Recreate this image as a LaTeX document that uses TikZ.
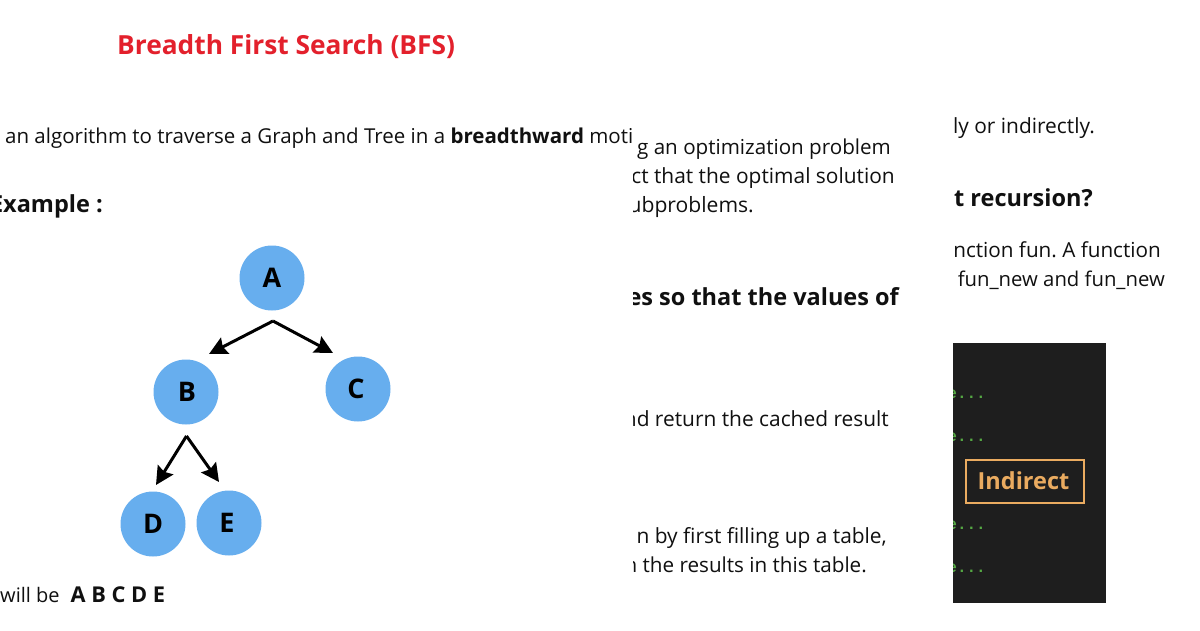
\documentclass[tikz,border=0pt]{standalone}
\usepackage{fontspec}
\setmainfont{Open Sans}
\newfontfamily\codefont{Liberation Mono}
\usetikzlibrary{arrows.meta}
\definecolor{nodeblue}{HTML}{67AEEE}
\definecolor{titlered}{HTML}{E3202C}
\definecolor{panel}{HTML}{1E1E1E}
\definecolor{amber}{HTML}{EAAB60}
\definecolor{codegreen}{HTML}{55A844}
\definecolor{ink}{HTML}{101010}
\newcommand{\fs}[1]{\fontsize{#1}{#1}\selectfont}
\frenchspacing
\tikzset{
  x=1pt,y=-1pt,
  circ/.style={circle,fill=nodeblue,minimum size=65pt,inner sep=0pt,font=\fs{27}\bfseries,text=black},
  body/.style={inner sep=0pt,font=\fs{20.9},text=ink},
  head/.style={inner sep=0pt,font=\fs{23.5}\bfseries,text=ink},
  code/.style={inner sep=0pt,font=\fs{16}\codefont\bfseries,text=codegreen},
  arrowline/.style={line width=3pt,black,line join=miter,-{Stealth[length=18pt,width=18pt,inset=2.5pt]}}
}
\begin{document}
\begin{tikzpicture}
\useasboundingbox (0,0) rectangle (1200,630);
\fill[white] (0,0) rectangle (1200,630);
\node[inner sep=0pt,anchor=base west,font=\fs{26.3}\bfseries,text=titlered] (title) at (117,54) {Breadth First Search (BFS)};
\begin{scope}
\clip (0,0) rectangle (632,630);
\node[body,anchor=base west,font=\fs{20.5}] (intro) at (5,143) {an algorithm to traverse a Graph and Tree in a \textbf{breadthward} moti};
\node[head,anchor=base east] (example) at (103,212) {Example :};
\node[body,anchor=base west,font=\fs{20}] (order) at (0,602) {will be\hspace{11pt}{\fs{21.8}\bfseries A B C D E}};
\end{scope}
\node[circ] (A) at (272,278) {A};
\node[circ] (B) at (186,392) {\hspace{2pt}B};
\node[circ] (C) at (358,389) {\hspace{-4pt}C};
\node[circ] (D) at (153,524) {D};
\node[circ] (E) at (229,523) {\hspace{-4pt}E};
\coordinate (forkA) at (273,321);
\coordinate (tipB) at (209,354);
\coordinate (tipC) at (333,353);
\coordinate (forkB) at (186.5,436);
\coordinate (tipD) at (156,485);
\coordinate (tipE) at (219,482);
\draw[arrowline] (forkA) -- (tipB);
\draw[arrowline] (forkA) -- (tipC);
\draw[arrowline] (forkB) -- (tipD);
\draw[arrowline] (forkB) -- (tipE);
\begin{scope}
\clip (633,0) rectangle (953,630);
\node[body,anchor=base east,font=\fs{20.6}] (m1) at (891,154.5) {g an optimization problem};
\node[body,anchor=base east] (m2) at (895,183) {ct that the optimal solution};
\node[body,anchor=base east,font=\fs{21.1}] (m3) at (754,212) {ubproblems.};
\node[head,anchor=base east] (m4) at (899,305) {es so that the values of};
\node[body,anchor=base east] (m5) at (889,426) {nd return the cached result};
\node[body,anchor=base east] (m6) at (887,543) {n by first filling up a table,};
\node[body,anchor=base east,font=\fs{20.65}] (m7) at (867,572) {n the results in this table.};
\end{scope}
\begin{scope}
\clip (953,0) rectangle (1200,630);
\node[body,anchor=base east] (r1) at (1095,133) {ly or indirectly.};
\node[head,anchor=base east] (r2) at (1093,206) {ut recursion?};
\node[body,anchor=base east,font=\fs{20.7}] (r3) at (1161,257) {nction fun. A function};
\node[body,anchor=base east,font=\fs{20.3}] (r4) at (1165,286) {fun\_new and fun\_new};
\fill[panel] (953,343) rectangle (1106,603);
\node[code,anchor=base east] (c1) at (986,398) {e...};
\node[code,anchor=base east] (c2) at (986,441) {e...};
\node[code,anchor=base east] (c3) at (986,529) {e...};
\node[code,anchor=base east] (c4) at (986,572) {e...};
\end{scope}
\node[draw=amber,line width=1.2pt,minimum width=118pt,minimum height=43pt,inner sep=0pt,text=amber,font=\fs{23.5}\bfseries] (ind) at (1025,481.5) {\raisebox{1pt}{\hspace{-3pt}Indirect}};
\end{tikzpicture}
\end{document}
